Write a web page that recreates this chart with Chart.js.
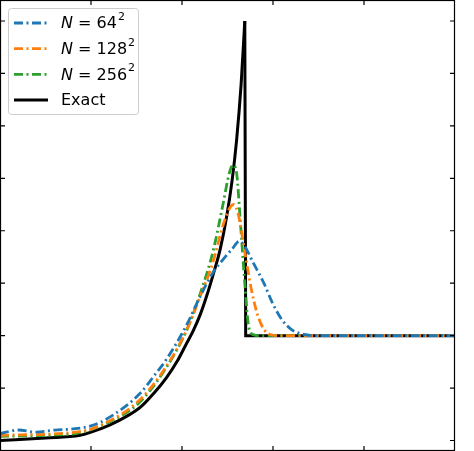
<!DOCTYPE html>
<html><head><meta charset="utf-8">
<script src="https://cdn.jsdelivr.net/npm/chart.js@4"></script>
<style>html,body{margin:0;padding:0;background:#fff}#w{width:474px;height:451px}</style>
</head><body><div id="w"><canvas id="c"></canvas></div>
<script>
const xTicks=[1,2,3,4];
const yTicks=[0,1,2,3,4,5,6,7,8];
const labels=['N = 64','N = 128','N = 256','Exact'];
const exps=['2','2','2',''];
const colors=['#1f77b4','#ff7f0e','#2ca02c','#000000'];
const blue=[[0,0.13],[0.2,0.2],[0.4,0.16],[0.6,0.2],[0.8,0.22],[1.0,0.28],[1.21,0.45],[1.54,0.9],[1.7,1.25],[1.83,1.55],[2.05,2.2],[2.2,2.75],[2.34,3.2],[2.45,3.45],[2.55,3.65],[2.63,3.8],[2.69,3.7],[2.78,3.4],[2.9,3.0],[3.0,2.6],[3.1,2.3],[3.2,2.12],[3.3,2.04],[3.45,2.0],[5,2.0]];
const orange=[[0,0.1],[0.88,0.17],[1.21,0.38],[1.54,0.78],[1.83,1.42],[2.05,2.1],[2.2,2.75],[2.34,3.4],[2.45,4.1],[2.53,4.45],[2.57,4.5],[2.62,4.3],[2.69,3.6],[2.76,2.9],[2.83,2.4],[2.9,2.12],[2.97,2.02],[3.05,2.0],[5,2.0]];
const green=[[0,0.08],[0.5,0.1],[0.88,0.15],[1.21,0.36],[1.54,0.74],[1.83,1.4],[2.05,2.1],[2.2,2.8],[2.34,3.6],[2.45,4.5],[2.52,5.1],[2.56,5.25],[2.6,5.1],[2.64,4.2],[2.69,3.0],[2.73,2.2],[2.78,2.02],[2.85,2.0],[5,2.0]];
const exactRise=[[0,0],[0.5,0.05],[0.88,0.1],[1.0,0.16],[1.21,0.3],[1.4,0.47],[1.54,0.63],[1.7,0.92],[1.83,1.2],[1.95,1.52],[2.05,1.85],[2.12,2.08],[2.2,2.4],[2.27,2.75],[2.34,3.15],[2.42,3.65],[2.49,4.26],[2.55,4.95],[2.6,5.73],[2.65,6.8],[2.69,8.0]];
const exactTail=[[2.69,8.0],[2.7,2.0],[5,2.0]];
const pts=a=>a.map(p=>({x:p[0],y:p[1]}));
const dash=[9,3.5,2,3.5];
const ds=(d,c,dashed,w,mono)=>({data:pts(d),borderColor:c,borderWidth:w,borderDash:dashed?dash:[],pointRadius:0,showLine:true,fill:false,cubicInterpolationMode:mono?'monotone':'default',tension:mono?0.4:0});
const deco={id:'deco',afterDraw(ch){
 const ctx=ch.ctx,a=ch.chartArea,xs=ch.scales.x,ys=ch.scales.y;
 ctx.save();ctx.strokeStyle='#000';ctx.lineWidth=1.2;
 ctx.strokeRect(a.left+0.5,a.top+0.5,a.right-a.left-1,a.bottom-a.top-1);
 ctx.beginPath();
 xTicks.forEach(v=>{const p=xs.getPixelForValue(v);ctx.moveTo(p,a.bottom);ctx.lineTo(p,a.bottom-5);ctx.moveTo(p,a.top);ctx.lineTo(p,a.top+5);});
 yTicks.forEach(v=>{const p=ys.getPixelForValue(v);ctx.moveTo(a.left,p);ctx.lineTo(a.left+5,p);ctx.moveTo(a.right,p);ctx.lineTo(a.right-5,p);});
 ctx.stroke();
 ctx.fillStyle='rgba(255,255,255,0.85)';ctx.strokeStyle='#ccc';ctx.lineWidth=1;
 ctx.beginPath();ctx.roundRect(8.5,8.5,130,106,3);ctx.fill();ctx.stroke();
 labels.forEach((l,i)=>{const y=23+i*25.7;
  ctx.strokeStyle=colors[i];ctx.lineWidth=i==3?3:2.8;ctx.setLineDash(i==3?[]:dash);
  ctx.beginPath();ctx.moveTo(14,y);ctx.lineTo(48,y);ctx.stroke();ctx.setLineDash([]);
  ctx.fillStyle='#000';ctx.textBaseline='middle';
  if(i<3){const parts=l.split(' = ');ctx.font='italic 16px "DejaVu Sans"';ctx.fillText('N',61,y+1);
   let x=61+ctx.measureText('N').width;ctx.font='16px "DejaVu Sans"';const t=' = '+parts[1];ctx.fillText(t,x,y+1);x+=ctx.measureText(t).width;
   ctx.font='11px "DejaVu Sans"';ctx.fillText(exps[i],x+1,y-6);}
  else{ctx.font='16px "DejaVu Sans"';ctx.fillText(l,61,y+1);}
 });
 ctx.restore();}};
new Chart(document.getElementById('c'),{type:'scatter',
 data:{datasets:[ds(blue,colors[0],true,2.8,true),ds(orange,colors[1],true,2.8,true),ds(green,colors[2],true,2.8,true),ds(exactRise,'#000',false,3,true),ds(exactTail,'#000',false,3,false)]},
 options:{responsive:true,maintainAspectRatio:false,animation:false,
  layout:{padding:{left:0,right:19,top:0,bottom:0}},
  plugins:{legend:{display:false},tooltip:{enabled:false}},
  scales:{x:{type:'linear',min:0,max:5,display:false},y:{type:'linear',min:-0.2,max:8.4,display:false}}},
 plugins:[deco]});
</script></body></html>
